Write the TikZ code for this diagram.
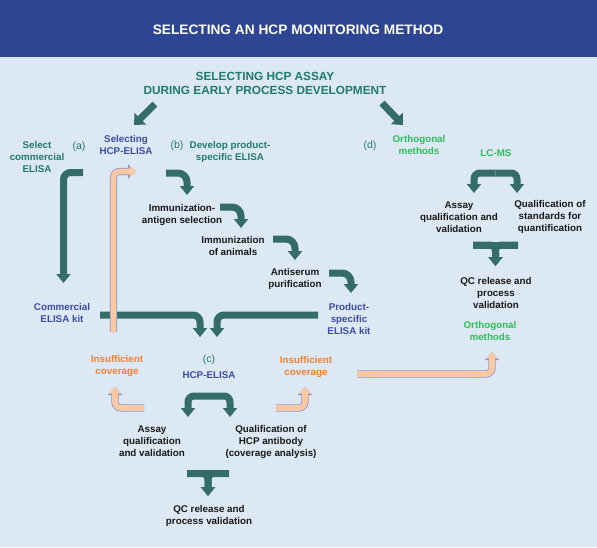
\documentclass[tikz,border=0pt]{standalone}
\usepackage{fontspec}
\setmainfont{Liberation Sans}
\usetikzlibrary{arrows.meta}
\definecolor{hdrblue}{RGB}{46,69,147}
\definecolor{bgblue}{RGB}{221,232,245}
\definecolor{txtteal}{RGB}{31,122,110}
\definecolor{txtblue}{RGB}{58,77,160}
\definecolor{txtgreen}{RGB}{44,190,88}
\definecolor{txtorange}{RGB}{244,128,46}
\definecolor{txtblack}{RGB}{24,24,24}
\definecolor{arrteal}{RGB}{52,108,103}
\definecolor{peach}{RGB}{250,201,164}
\definecolor{peachline}{RGB}{142,148,196}
\tikzset{
  txt/.style={font=\fontsize{9.8}{12}\selectfont\bfseries, align=center, inner sep=0pt},
  steptxt/.style={txt, text=txtblack},
  headtxt/.style={txt, text=txtteal},
  kittxt/.style={txt, text=txtblue},
  orthtxt/.style={txt, text=txtgreen},
  warntxt/.style={txt, text=txtorange},
  tagtxt/.style={font=\fontsize{10.5}{12}\selectfont, text=txtteal, inner sep=0pt},
  tealarr/.style={draw=arrteal, line width=7pt, rounded corners=7pt,
    -{Triangle[width=14pt,length=9pt]}},
  bendarr/.style={tealarr, rounded corners=9pt},
  tealbar/.style={draw=arrteal, line width=7pt},
  peacharr/.style={draw=peach, line width=5.6pt, rounded corners=6pt,
    -{Triangle[width=11.5pt,length=6.5pt]},
    preaction={draw=peachline, line width=7.2pt, -{Triangle[width=14pt,length=8pt]}}},
}

\begin{document}
\begin{tikzpicture}[x=1pt, y=-1pt]
    % background and header band
    \fill[bgblue] (0,0) rectangle (597,547);
    \fill[hdrblue] (0,0) rectangle (597,57);
    \node[txt, text=white, font=\fontsize{13.7}{16}\selectfont\bfseries] (title) at (298,30)
      {SELECTING AN HCP MONITORING METHOD};
    \node[txt, text=txtteal, font=\fontsize{11.8}{14}\selectfont\bfseries] (assay) at (265,83)
      {SELECTING HCP ASSAY\\DURING EARLY PROCESS DEVELOPMENT};
    % branch labels
    \node[headtxt] (selcomm) at (37,157) {Select\\commercial\\ELISA};
    \node[tagtxt] (taga) at (79,147) {(a)};
    \node[kittxt] (selhcp) at (126,145) {Selecting\\HCP-ELISA};
    \node[tagtxt] (tagb) at (177,146) {(b)};
    \node[headtxt] (devel) at (230,152) {Develop product-\\specific ELISA};
    \node[tagtxt] (tagd) at (370,146) {(d)};
    \node[orthtxt] (orthtop) at (419,145) {Orthogonal\\methods};
    % product-specific steps
    \node[steptxt] (immag) at (182,214.5) {Immunization-\\antigen selection};
    \node[steptxt] (immani) at (233,245.5) {Immunization\\of animals};
    \node[steptxt] (antis) at (295,278.5) {Antiserum\\purification};
    \node[kittxt] (prodkit) at (349,319) {Product-\\specific\\ELISA kit};
    \node[kittxt] (commkit) at (62,313) {Commercial\\ELISA kit};
    % LC-MS branch
    \node[orthtxt] (lcms) at (496,153) {LC-MS};
    \node[steptxt] (msassay) at (459,217) {Assay\\qualification and\\validation};
    \node[steptxt] (msstd) at (550,217) {Qualification of\\standards for\\quantification};
    \node[steptxt] (msqc) at (496,292.5) {QC release and\\process\\validation};
    \node[orthtxt] (orthbot) at (490,330.5) {Orthogonal\\methods};
    % HCP-ELISA branch
    \node[warntxt] (insufl) at (117,366) {Insufficient\\coverage};
    \node[tagtxt] (tagc) at (209,360) {(c)};
    \node[kittxt] (hcpelisa) at (209,375) {HCP-ELISA};
    \node[warntxt] (insufr) at (306,367) {Insufficient\\coverage};
    \node[steptxt] (elassay) at (152,441) {Assay\\qualification\\and validation};
    \node[steptxt] (elab) at (271,442) {Qualification of\\HCP antibody\\(coverage analysis)};
    \node[steptxt] (elqc) at (209,516) {QC release and\\process validation};
    % arrow ends
    \coordinate (dls) at (155,104); \coordinate (dle) at (134,125);
    \coordinate (drs) at (382,103); \coordinate (dre) at (403,125);
    \coordinate (as) at (83,172.5); \coordinate (ae) at (63.5,283);
    \coordinate (ps) at (113.5,332); \coordinate (pe) at (136,171.5);
    \coordinate (b1s) at (166,173); \coordinate (b1e) at (187,195);
    \coordinate (b2s) at (220,207); \coordinate (b2e) at (241,228);
    \coordinate (b3s) at (273,239); \coordinate (b3e) at (295,260);
    \coordinate (b4s) at (329,273); \coordinate (b4e) at (351,293);
    \coordinate (m1s) at (100,315); \coordinate (m1e) at (200,337);
    \coordinate (m2s) at (318,315); \coordinate (m2e) at (217,337);
    \coordinate (ls) at (495.5,173); \coordinate (ll) at (474,193); \coordinate (lr) at (517,193);
    \coordinate (lml) at (473,245); \coordinate (lmr) at (518,245); \coordinate (lmt) at (495.5,266);
    \coordinate (cs) at (209,396); \coordinate (cl) at (188,417); \coordinate (cr) at (230,417);
    \coordinate (cml) at (187,473.5); \coordinate (cmr) at (229,473.5); \coordinate (cmt) at (208,496);
    \coordinate (q1s) at (144,408); \coordinate (q1e) at (115,387);
    \coordinate (q2s) at (276,408); \coordinate (q2e) at (305,387);
    \coordinate (q3s) at (357,374); \coordinate (q3e) at (492,352);
    % teal arrows
    \draw[tealarr, -{Triangle[width=16pt,length=9pt]}] (dls) -- (dle);
    \draw[tealarr, -{Triangle[width=16pt,length=9pt]}] (drs) -- (dre);
    \draw[tealarr] (as) -| (ae);
    \foreach \k in {1,...,4} {
      \draw[bendarr] (b\k s) -| (b\k e);
    }
    \draw[tealarr] (m1s) -| (m1e);
    \draw[tealarr] (m2s) -| (m2e);
    \draw[tealarr, rounded corners=6pt] (ls) -| (ll);
    \draw[tealarr, rounded corners=6pt] (ls) -| (lr);
    \draw[tealbar] (lml) -- (lmr);
    \draw[tealarr, rounded corners=6pt] (lml) -| (lmt);
    \draw[tealarr, rounded corners=6pt] (lmr) -| (lmt);
    \draw[tealarr, rounded corners=6pt] (cs) -| (cl);
    \draw[tealarr, rounded corners=6pt] (cs) -| (cr);
    \draw[tealbar] (cml) -- (cmr);
    \draw[tealarr, rounded corners=6pt] (cml) -| (cmt);
    \draw[tealarr, rounded corners=6pt] (cmr) -| (cmt);
    % peach arrows
    \draw[peacharr] (ps) |- (pe);
    \draw[peacharr] (q1s) -| (q1e);
    \draw[peacharr] (q2s) -| (q2e);
    \draw[peacharr] (q3s) -| (q3e);
\end{tikzpicture}
\end{document}
